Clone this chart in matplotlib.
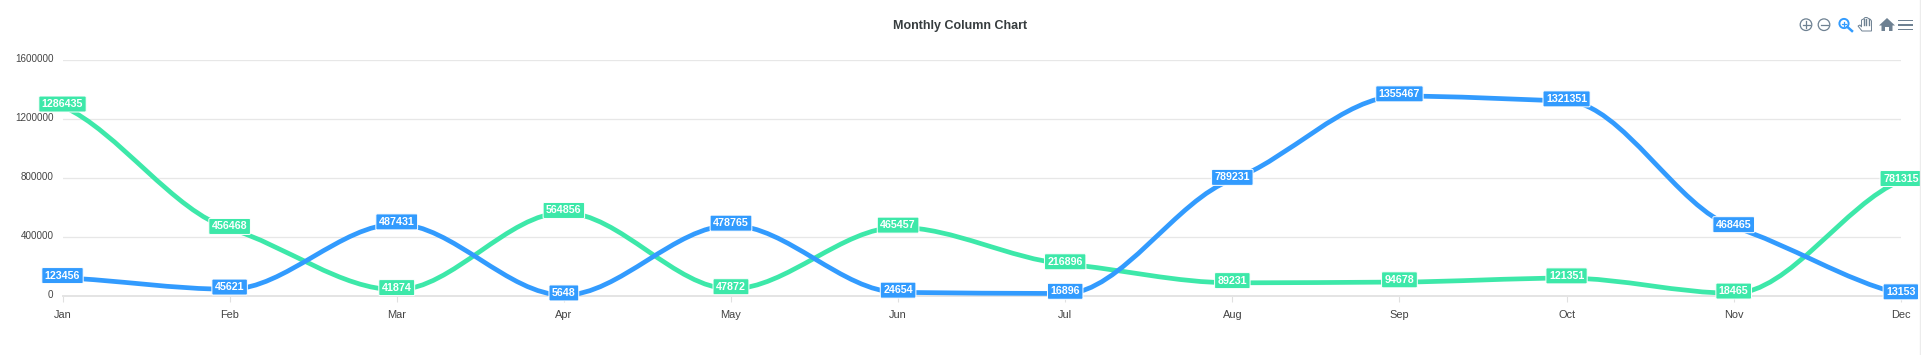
import matplotlib
matplotlib.use('Agg')
import matplotlib.pyplot as plt
from matplotlib.path import Path
from matplotlib.patches import PathPatch, Circle, Polygon, Rectangle

plt.rcParams['font.family'] = ['Liberation Sans', 'DejaVu Sans']

months = ['Jan', 'Feb', 'Mar', 'Apr', 'May', 'Jun', 'Jul', 'Aug', 'Sep', 'Oct', 'Nov', 'Dec']
blue_values = [123456, 45621, 487431, 5648, 478765, 24654, 16896, 789231, 1355467, 1321351, 468465, 13153]
green_values = [1286435, 456468, 41874, 564856, 47872, 465457, 216896, 89231, 94678, 121351, 18465, 781315]
y_ticks = [0, 400000, 800000, 1200000, 1600000]

BLUE = '#329BFE'
GREEN = '#3DE8A9'
W, H = 1921, 355


def smooth_path(values, t=0.6):
    # monotone bezier curve, tangents damped so the points read as soft steps
    n = len(values)
    d = [values[i + 1] - values[i] for i in range(n - 1)]
    m = [d[0] * t]
    for i in range(1, n - 1):
        if d[i - 1] * d[i] <= 0:
            m.append(0)
        else:
            m.append(t * 2 * d[i - 1] * d[i] / (d[i - 1] + d[i]))
    m.append(d[-1] * t)

    verts = [(0, values[0])]
    codes = [Path.MOVETO]
    for i in range(1, n):
        verts += [(i - 1 + 1 / 3, values[i - 1] + m[i - 1] / 3), (i - 1 / 3, values[i] - m[i] / 3), (i, values[i])]
        codes += [Path.CURVE4, Path.CURVE4, Path.CURVE4]
    return Path(verts, codes)


fig = plt.figure(figsize=(W / 100, H / 100), dpi=100)
ax = fig.add_axes([62.5 / W, 1 - 296 / H, (1900.8 - 62.5) / W, 236 / H])
ax.set_xlim(0, 11)
ax.set_ylim(0, 1600000)

ax.set_yticks(y_ticks)
ax.set_yticklabels([str(v) for v in y_ticks])
ax.set_xticks(range(12))
ax.set_xticklabels(months)
ax.tick_params(axis='y', length=0, pad=6.5, labelsize=7.1, labelcolor='#444444')
ax.tick_params(axis='x', length=4.3, width=0.8, color='#e0e0e0', pad=6, labelsize=7.9, labelcolor='#444444')
for lab in ax.get_yticklabels():
    lab.set_verticalalignment('center')
    lab.set_transform(lab.get_transform() + matplotlib.transforms.ScaledTranslation(0, 1 / 100, fig.dpi_scale_trans))
ax.grid(axis='y', color='#e7e7e7', linewidth=0.9)
ax.set_axisbelow(True)
for side in ['top', 'right', 'left']:
    ax.spines[side].set_visible(False)
ax.spines['bottom'].set_color('#e4e4e4')
ax.spines['bottom'].set_linewidth(1.4)

for values, color in [(green_values, GREEN), (blue_values, BLUE)]:
    ax.add_patch(PathPatch(smooth_path(values), facecolor='none', edgecolor=color,
                           linewidth=3.4, capstyle='round', clip_on=False, zorder=3))

for values, color in [(green_values, GREEN), (blue_values, BLUE)]:
    for i, v in enumerate(values):
        ax.annotate(str(v), (i, v), xytext=(0, 1.6), textcoords='offset points',
                    ha='center', va='center', color='white', fontsize=7.7, fontweight='bold',
                    annotation_clip=False, zorder=4,
                    bbox=dict(boxstyle='round,pad=0.28,rounding_size=0.12', facecolor=color,
                              edgecolor='#ffffff', linewidth=0.7))

fig.text(960 / W, 1 - 25.5 / H, 'Monthly Column Chart', ha='center', va='center',
         fontsize=9.0, fontweight='bold', color='#373d3f')

# toolbar icons, drawn in pixel coords
ov = fig.add_axes([0, 0, 1, 1], facecolor='none')
ov.set_xlim(0, W)
ov.set_ylim(H, 0)
ov.axis('off')
GREY = '#6e8192'

ov.add_patch(Circle((1806, 24.7), 5.8, fill=False, ec=GREY, lw=0.9))
ov.plot([1802.5, 1809.5], [24.7, 24.7], color=GREY, lw=0.9)
ov.plot([1806, 1806], [21.2, 28.2], color=GREY, lw=0.9)
ov.add_patch(Circle((1824, 24.7), 5.8, fill=False, ec=GREY, lw=0.9))
ov.plot([1820.5, 1827.5], [24.7, 24.7], color=GREY, lw=0.9)

ov.add_patch(Circle((1844, 23.5), 4.6, fill=False, ec=BLUE, lw=1.4))
ov.plot([1847.5, 1852], [27, 31], color=BLUE, lw=1.8)
ov.plot([1842, 1846], [23.5, 23.5], color=BLUE, lw=0.9)
ov.plot([1844, 1844], [21.5, 25.5], color=BLUE, lw=0.9)

ov.add_patch(Polygon([(1858, 26), (1860, 25), (1861.5, 27), (1861.5, 20), (1863.5, 19), (1865, 17.5), (1867, 17.5),
                      (1868.5, 18.5), (1870.5, 19.5), (1871.5, 21), (1871.5, 31), (1862, 31)],
                     closed=True, fc='white', ec=GREY, lw=0.7))
for hx in [1864, 1866.4, 1868.8]:
    ov.plot([hx, hx], [19, 25], color=GREY, lw=1.0)

ov.add_patch(Polygon([(1879, 25.5), (1887, 18), (1895, 25.5), (1892.5, 25.5), (1892.5, 31), (1889, 31),
                      (1889, 27), (1885, 27), (1885, 31), (1881.5, 31), (1881.5, 25.5)],
                     closed=True, fc=GREY, ec='none'))

for my in [20.5, 25, 29.5]:
    ov.add_patch(Rectangle((1898, my - 0.8), 14.5, 1.6, fc=GREY, ec='none'))

# thin edge on the right side of the screenshot
ov.plot([1920.2, 1920.2], [0, H], color='#ececec', lw=1)

fig.savefig('out.png', dpi=100)
